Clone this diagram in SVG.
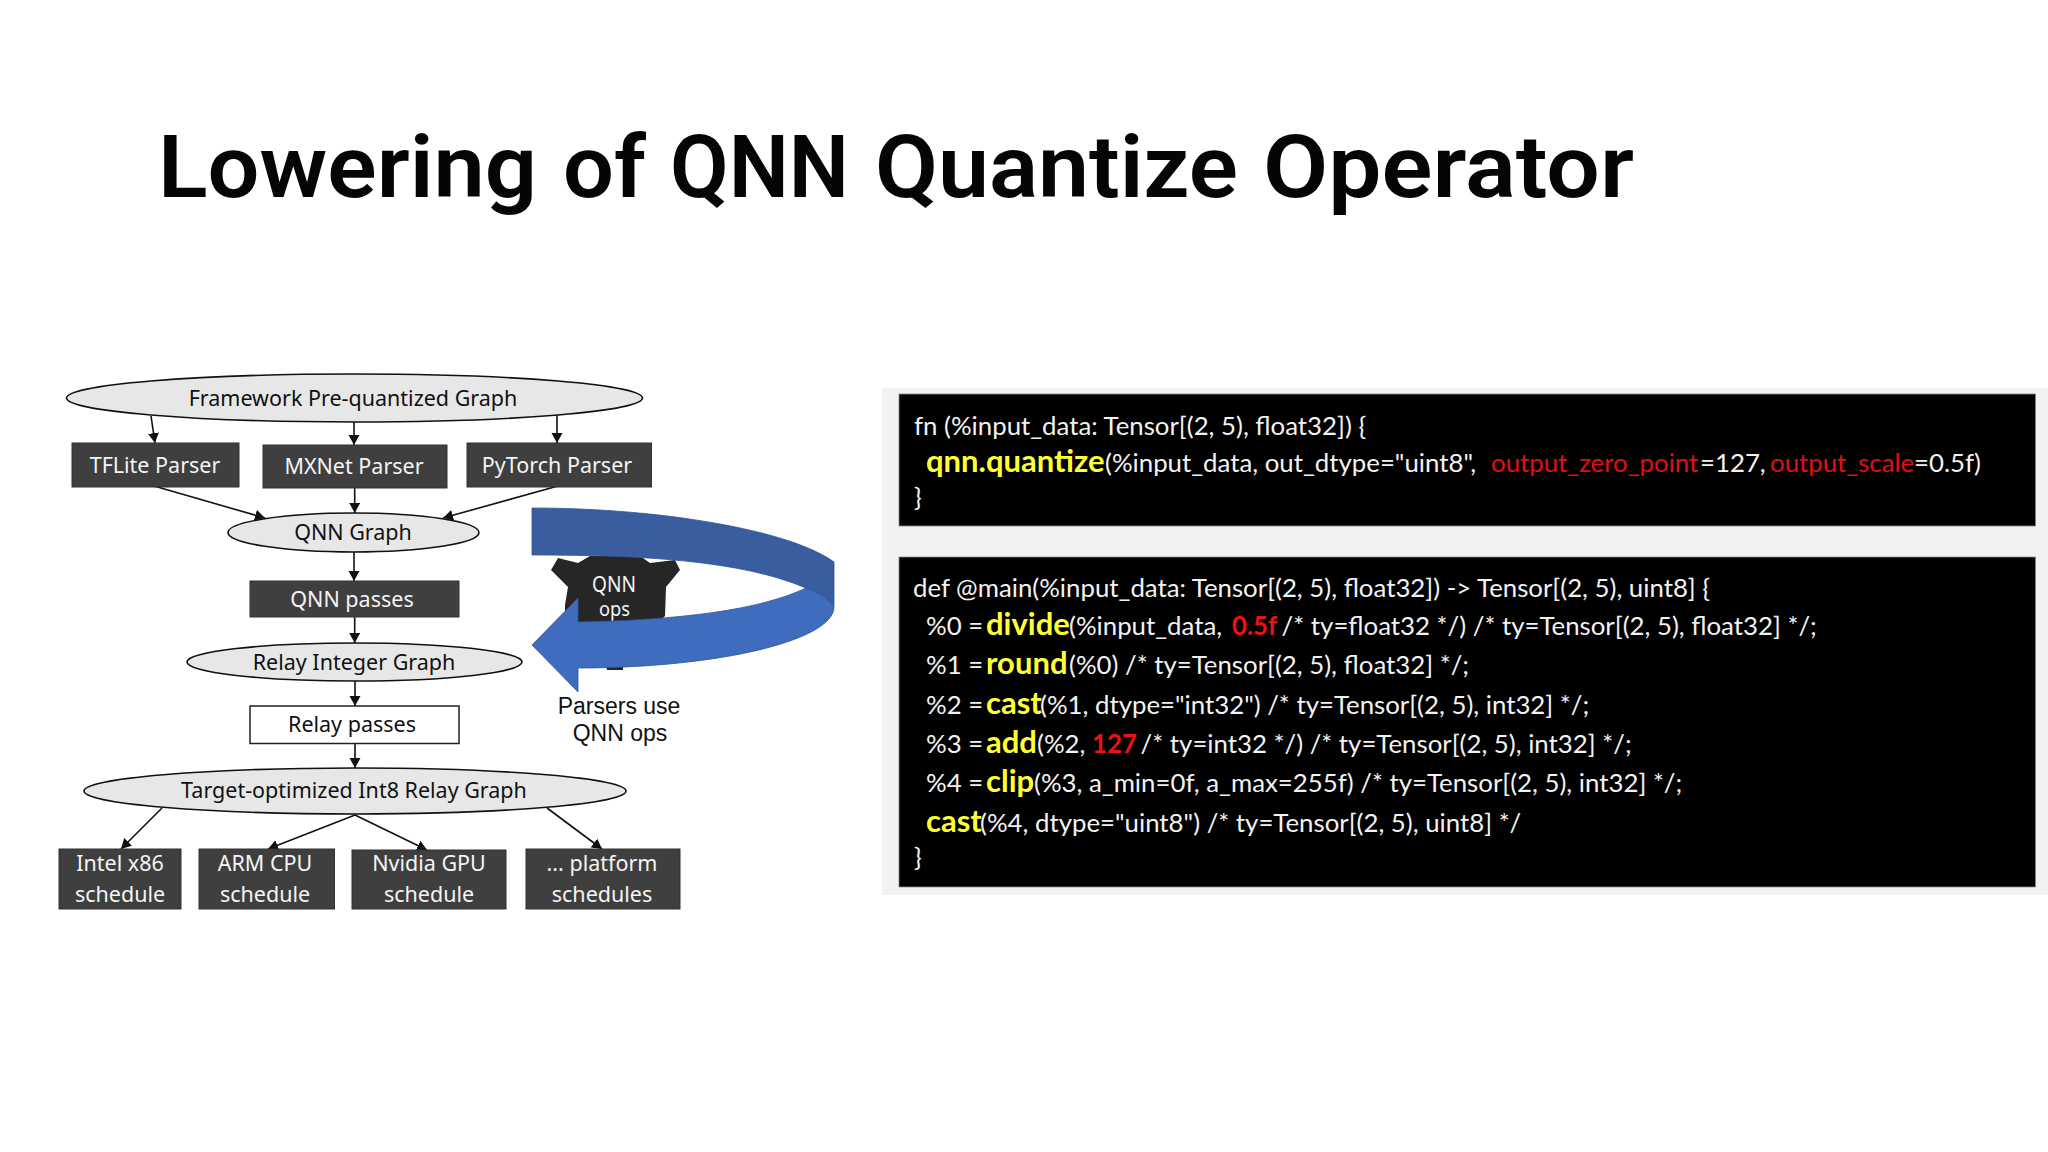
<svg xmlns="http://www.w3.org/2000/svg" width="2048" height="1152" viewBox="0 0 2048 1152">
<style>
.n{font-family:"Noto Sans","Open Sans",sans-serif;font-size:21.5px;text-anchor:middle;fill:#111}
.w{fill:#f4f4f4}
.e{fill:#e7e7e7;stroke:#111;stroke-width:1.6}
.d{fill:#3f3f3f;stroke:#333;stroke-width:1}
.c{font-family:Lato,"Liberation Sans",sans-serif;font-size:25.8px;fill:#f2f2f2}
.y{fill:#ffff33;font-weight:700;font-size:31px}
.r{fill:#e01010}
.rb{fill:#ee1111;font-weight:700}
.conn line{stroke:#111;stroke-width:1.6;marker-end:url(#a)}
.p{fill:#000;stroke:#888;stroke-width:.8}
</style>
<defs><marker id="a" markerUnits="userSpaceOnUse" markerWidth="11" markerHeight="12" refX="10" refY="5.5" orient="auto"><path d="M0 0L10 5.5L0 11z" fill="#111"/></marker></defs>
<rect width="2048" height="1152" fill="#fff"/>
<text y="196.500" font-family="Roboto,sans-serif" font-weight="600" font-size="87" fill="#050505"><tspan x="158" textLength="379" lengthAdjust="spacingAndGlyphs">Lowering</tspan> <tspan x="563" textLength="83" lengthAdjust="spacingAndGlyphs">of</tspan> <tspan x="670" textLength="179" lengthAdjust="spacingAndGlyphs">QNN</tspan> <tspan x="875" textLength="363" lengthAdjust="spacingAndGlyphs">Quantize</tspan> <tspan x="1263" textLength="371" lengthAdjust="spacingAndGlyphs">Operator</tspan></text>
<g id="connectors" class="conn">
<line x1="151" y1="416" x2="155" y2="443"/><line x1="354" y1="422" x2="354" y2="445"/><line x1="557" y1="415" x2="557" y2="443"/>
<line x1="154" y1="486" x2="265" y2="518"/><line x1="354.7" y1="488" x2="354.7" y2="513"/><line x1="558" y1="486" x2="443" y2="518"/>
<line x1="354" y1="552" x2="354" y2="581"/><line x1="354.7" y1="617" x2="354.7" y2="643"/><line x1="355" y1="681" x2="355" y2="706"/><line x1="355" y1="744" x2="355" y2="768"/>
<line x1="162" y1="808" x2="121" y2="849"/><line x1="355" y1="815" x2="268" y2="849"/><line x1="355" y1="815" x2="427" y2="850"/><line x1="547" y1="808" x2="602" y2="849"/>
</g>
<g id="framework"><ellipse class="e" cx="354.5" cy="398" rx="288" ry="24"/><text class="n" x="353" y="406">Framework Pre-quantized Graph</text></g>
<g id="tflite"><rect class="d" x="72" y="443" width="167" height="44"/><text class="n w" x="155" y="473">TFLite Parser</text></g>
<g id="mxnet"><rect class="d" x="263" y="445" width="184" height="43"/><text class="n w" x="354" y="474">MXNet Parser</text></g>
<g id="pytorch"><rect class="d" x="467" y="443" width="184.500" height="44"/><text class="n w" x="557" y="473">PyTorch Parser</text></g>
<g id="qnn-graph"><ellipse class="e" cx="353.500" cy="532.500" rx="125.500" ry="19.500"/><text class="n" x="353" y="540">QNN Graph</text></g>
<g id="qnn-passes"><rect class="d" x="250" y="581" width="209" height="36"/><text class="n w" x="352" y="607">QNN passes</text></g>
<g id="relay-integer"><ellipse class="e" cx="354.500" cy="662" rx="167.500" ry="19"/><text class="n" x="354" y="670">Relay Integer Graph</text></g>
<g id="relay-passes"><rect x="250" y="706" width="209" height="37.500" fill="#fff" stroke="#222" stroke-width="1.5"/><text class="n" x="352" y="732">Relay passes</text></g>
<g id="target"><ellipse class="e" cx="355" cy="791" rx="271" ry="23"/><text class="n" x="354" y="798">Target-optimized Int8 Relay Graph</text></g>
<g id="intel"><rect class="d" x="59" y="849" width="122" height="60"/><text class="n w" x="120" y="871">Intel x86</text><text class="n w" x="120" y="902">schedule</text></g>
<g id="arm"><rect class="d" x="199" y="849" width="135.500" height="60"/><text class="n w" x="265" y="871">ARM CPU</text><text class="n w" x="265" y="902">schedule</text></g>
<g id="nvidia"><rect class="d" x="352" y="850" width="154" height="59"/><text class="n w" x="429" y="871">Nvidia GPU</text><text class="n w" x="429" y="902">schedule</text></g>
<g id="platform"><rect class="d" x="526" y="849" width="154" height="60"/><text class="n w" x="602" y="871">... platform</text><text class="n w" x="602" y="902">schedules</text></g>
<g id="qnn-ops">
<path d="M558 558L551 570L568 587L565 605L565 622L607 669L607 670L623 670L623 660L665 616L666 587L680 570L675 560L650 563L640 556L590 556L578 563Z" fill="#262626"/>
<text x="592" y="592" font-family="Noto Sans,sans-serif" font-size="21" fill="#f4f4f4" textLength="44" lengthAdjust="spacingAndGlyphs">QNN</text><text x="599" y="616" font-family="Noto Sans,sans-serif" font-size="20" fill="#f4f4f4" textLength="31" lengthAdjust="spacingAndGlyphs">ops</text>
</g>
<g id="loop-arrow">
<path d="M532 508C660 508 790 530 834 562L834 607C820 595 812 590 806 588C740 560 640 555 532 555Z" fill="#395d9f" stroke="#2f5597" stroke-width=".8"/>
<path d="M806 588C820 593 830 600 834 607C834 640 720 668 578 668L578 692L532 645L578 598L578 622C680 620 760 610 806 588Z" fill="#3f6cbd" stroke="#2f5597" stroke-width=".8"/>
</g>
<g id="parsers-note"><text x="619" y="714" font-family="Liberation Sans,sans-serif" font-size="23" text-anchor="middle" fill="#111">Parsers use</text><text x="620" y="741" font-family="Liberation Sans,sans-serif" font-size="23" text-anchor="middle" fill="#111">QNN ops</text></g>
<rect id="code-bg" x="882" y="388" width="1166" height="507" fill="#f2f2f4"/>
<g id="code-1"><rect class="p" x="899" y="394" width="1136.500" height="132"/>
<text class="c" x="914" y="435">fn (%input_data: Tensor[(2, 5), float32]) {</text>
<text class="c" x="926" y="472"><tspan class="y">qnn.quantize</tspan><tspan x="1105">(%input_data, out_dtype="uint8", </tspan><tspan class="r" x="1491">output_zero_point</tspan><tspan x="1700">=127, </tspan><tspan class="r" x="1770">output_scale</tspan><tspan x="1914">=0.5f)</tspan></text>
<text class="c" x="914" y="506">}</text></g>
<g id="code-2"><rect class="p" x="899" y="557" width="1136.500" height="330"/>
<text class="c" x="913" y="597">def @main(%input_data: Tensor[(2, 5), float32]) -&gt; Tensor[(2, 5), uint8] {</text>
<text class="c" x="926" y="635">%0 = <tspan class="y" x="986">divide</tspan><tspan x="1069">(%input_data, </tspan><tspan class="rb" x="1232">0.5f</tspan><tspan x="1275"> /* ty=float32 */) /* ty=Tensor[(2, 5), float32] */;</tspan></text>
<text class="c" x="926" y="674">%1 = <tspan class="y" x="986">round</tspan><tspan x="1069">(%0) /* ty=Tensor[(2, 5), float32] */;</tspan></text>
<text class="c" x="926" y="714">%2 = <tspan class="y" x="986">cast</tspan><tspan x="1040">(%1, dtype="int32") /* ty=Tensor[(2, 5), int32] */;</tspan></text>
<text class="c" x="926" y="753">%3 = <tspan class="y" x="986">add</tspan><tspan x="1037">(%2, </tspan><tspan class="rb" x="1092">127</tspan><tspan x="1134"> /* ty=int32 */) /* ty=Tensor[(2, 5), int32] */;</tspan></text>
<text class="c" x="926" y="792">%4 = <tspan class="y" x="986">clip</tspan><tspan x="1034">(%3, a_min=0f, a_max=255f) /* ty=Tensor[(2, 5), int32] */;</tspan></text>
<text class="c" x="926" y="832"><tspan class="y">cast</tspan><tspan x="980">(%4, dtype="uint8") /* ty=Tensor[(2, 5), uint8] */</tspan></text>
<text class="c" x="914" y="866">}</text></g>
</svg>
